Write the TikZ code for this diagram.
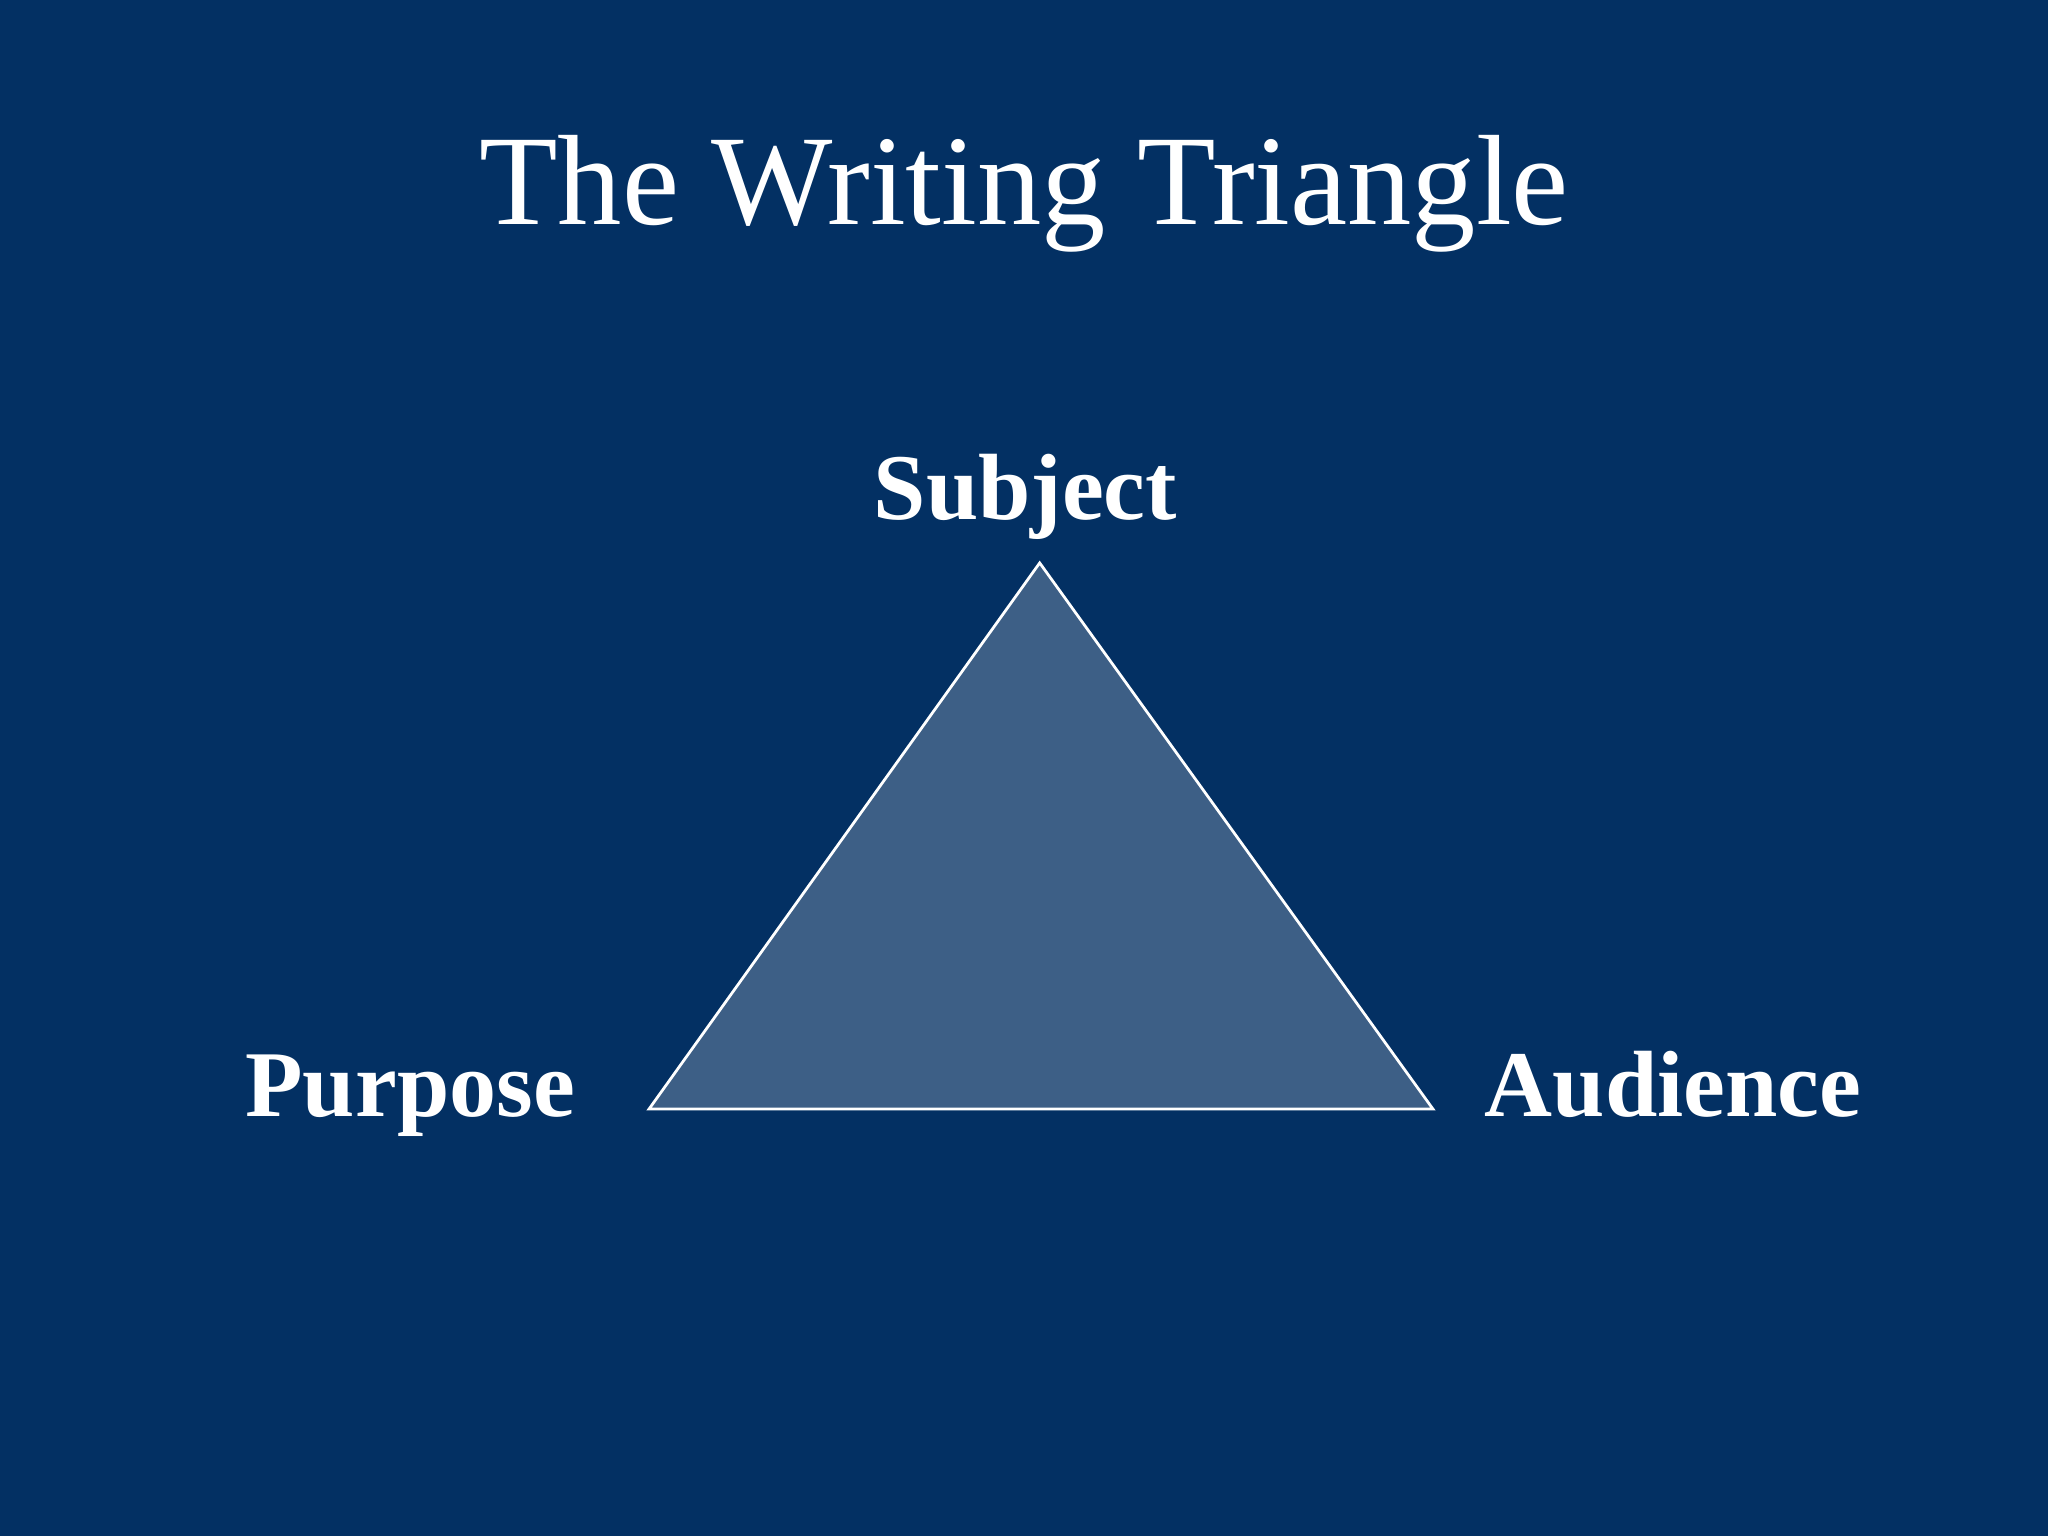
\documentclass[tikz,border=0pt]{standalone}
\usepackage{fontspec}
\setmainfont{Liberation Serif}
\definecolor{bg}{HTML}{033063}
\definecolor{tri}{HTML}{3D5F86}
\begin{document}
\begin{tikzpicture}[x=1cm,y=1cm,
  lbl/.style={text=white,anchor=base,inner sep=0pt,font=\fontsize{20.5}{24}\selectfont\bfseries}]
\fill[bg] (0,0) rectangle (15.68,11.76);
\useasboundingbox (0,0) rectangle (15.68,11.76);
\node[text=white,anchor=base,inner sep=0pt,font=\fontsize{28}{32}\selectfont] (title) at (7.84,10.04) {The Writing Triangle};
\coordinate (s) at (7.96,7.45);
\coordinate (p) at (4.97,3.27);
\coordinate (a) at (10.97,3.27);
\draw[white,line width=0.6pt,fill=tri] (s) -- (a) -- (p) -- cycle;
\node[lbl] (subj) at (7.85,7.78) {Subject};
\node[lbl] (purp) at (3.14,3.21) {Purpose};
\node[lbl] (aud) at (12.81,3.21) {Audience};
\end{tikzpicture}
\end{document}
